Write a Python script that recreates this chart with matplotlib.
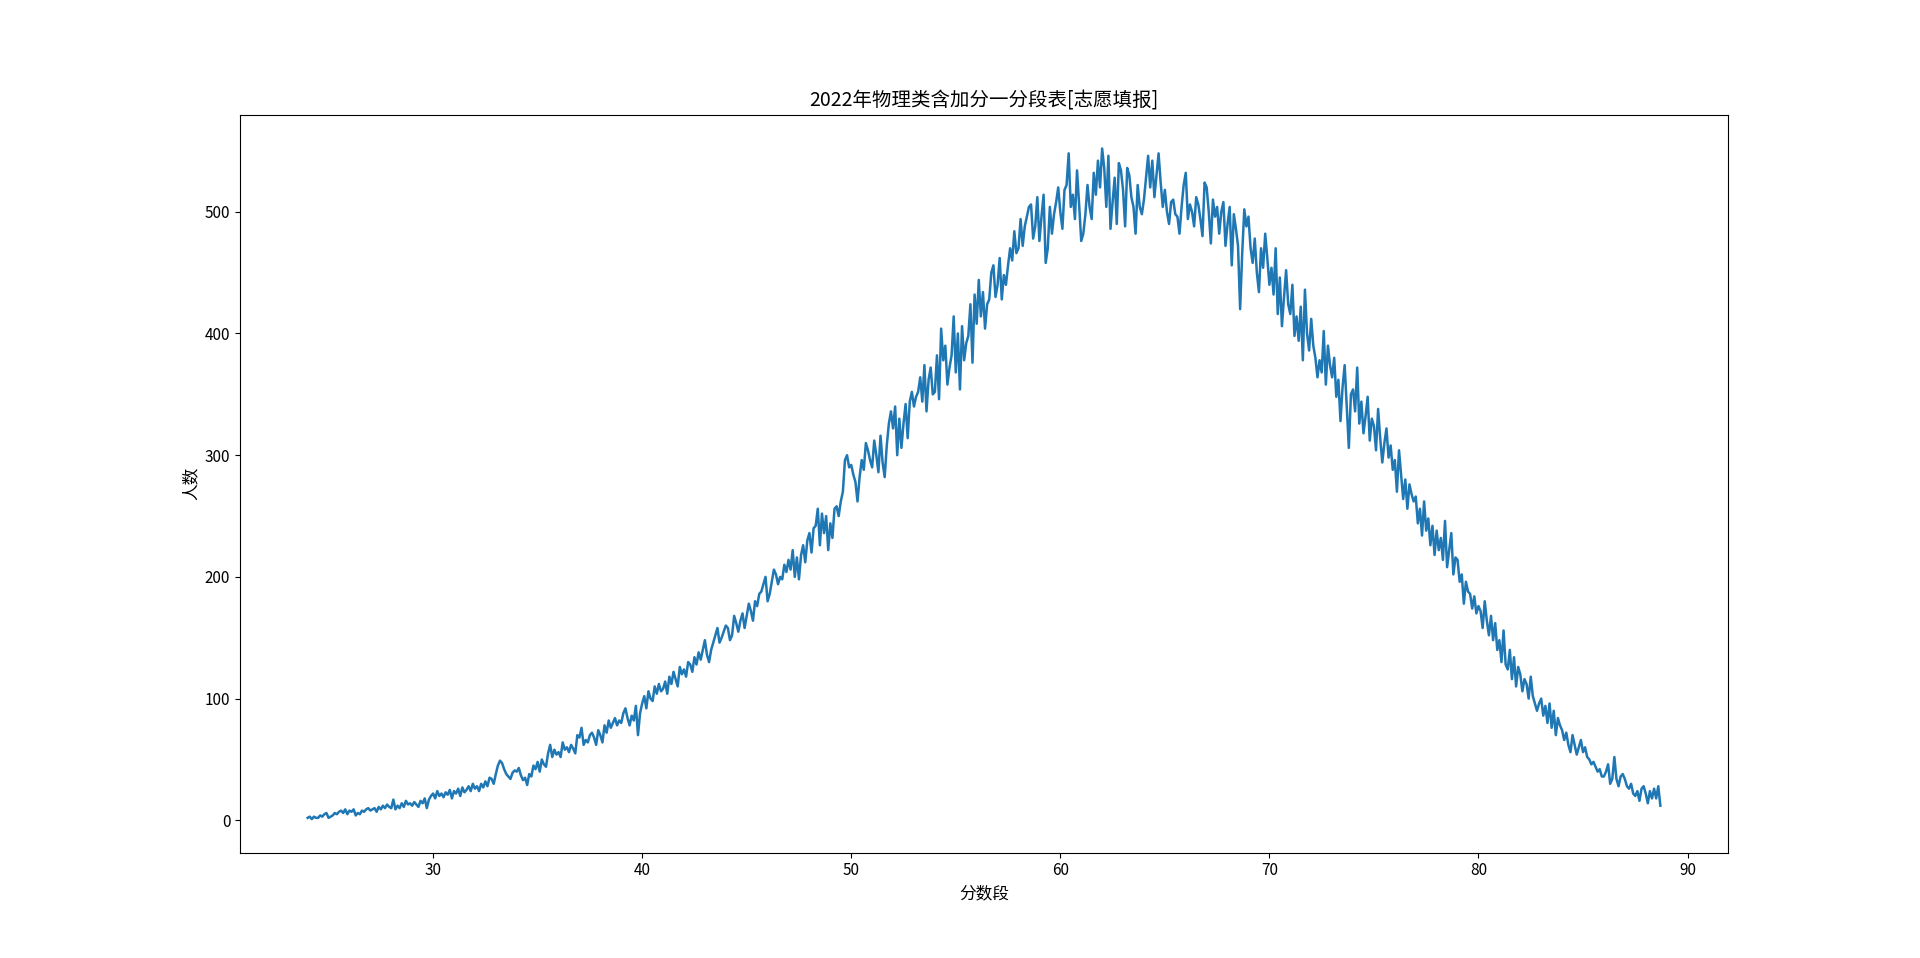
import numpy as np
import matplotlib
matplotlib.use("Agg")
import matplotlib.pyplot as plt

plt.rcParams['font.family'] = ['Noto Sans CJK SC', 'DejaVu Sans']
plt.rcParams['axes.unicode_minus'] = False

counts = [
2,3,1,3,2,2,4,3,5,6,
2,3,4,6,5,7,8,6,9,5,
8,7,9,4,6,5,8,7,9,10,
8,9,10,7,11,9,12,10,13,11,
10,17,9,12,10,14,11,16,13,14,
12,15,13,11,16,14,18,10,17,20,
22,18,24,20,22,19,23,21,25,18,
24,22,26,20,27,23,25,28,24,30,
26,28,24,30,27,32,28,35,34,30,
38,45,49,47,42,38,36,34,39,41,
40,43,37,33,35,29,38,36,45,42,
48,40,50,46,44,55,62,52,58,54,
56,52,64,58,60,56,62,59,55,70,
68,76,62,66,64,70,72,68,62,74,
70,64,78,72,82,76,80,84,78,82,
80,88,92,84,78,86,82,94,70,88,
96,102,92,106,100,98,110,104,112,106,
108,114,104,118,112,122,116,110,126,120,
124,118,130,128,122,134,128,138,132,140,
148,136,130,140,146,152,158,146,150,155,
160,158,148,152,168,162,155,164,170,158,
168,178,172,164,180,176,186,188,194,200,
180,186,196,206,202,194,200,198,210,204,
214,206,222,200,216,198,218,226,212,230,
236,220,240,242,256,226,252,236,250,222,
244,232,256,258,250,262,270,296,300,290,
292,284,278,262,282,296,288,310,304,296,
290,312,300,286,316,294,282,308,326,336,
322,340,300,330,306,326,342,314,344,352,
340,348,352,364,344,374,336,362,372,350,
352,382,346,404,378,390,358,372,382,414,
368,400,354,406,378,392,398,424,376,432,
408,444,414,434,404,424,428,450,456,430,
440,462,428,448,440,456,470,460,484,466,
470,494,472,488,496,504,506,478,488,512,
476,496,514,458,470,504,482,498,508,520,
500,486,518,522,548,504,514,494,534,506,
476,482,498,522,504,494,532,514,542,520,
552,536,504,546,486,508,528,490,540,534,
518,488,536,530,512,504,482,522,504,498,
510,528,546,520,542,512,530,548,524,504,
518,500,490,508,510,498,496,482,504,522,
532,494,506,500,488,512,506,494,480,524,
520,500,474,510,496,504,482,500,508,472,
490,504,456,498,486,472,420,466,502,488,
496,470,458,478,450,434,470,454,482,462,
440,454,432,470,416,446,406,430,452,424,
416,440,398,414,394,422,378,436,400,386,
412,390,380,364,378,368,402,358,390,374,
364,380,348,362,328,356,374,340,306,350,
354,336,372,326,344,318,332,348,312,330,
324,304,338,314,294,310,322,298,308,288,
296,270,304,284,264,280,256,276,268,262,
266,244,256,234,262,238,248,226,242,218,
238,222,232,214,246,208,222,236,202,216,
214,196,202,178,196,188,186,174,184,170,
176,172,158,180,164,152,168,148,162,140,
148,130,156,128,124,140,116,134,110,126,
120,106,116,112,100,118,102,96,90,96,
100,86,94,80,96,76,90,70,84,78,
74,66,72,62,56,70,62,54,60,66,
56,60,52,50,46,48,44,40,42,36,
36,40,46,30,34,52,34,28,36,38,
34,28,26,30,22,20,24,16,26,28,
22,14,24,18,26,18,28,12,
]
scores = [round(24.0 + 0.1 * i, 1) for i in range(len(counts))]

fig, ax = plt.subplots(figsize=(19.2, 9.58), dpi=100)
ax.plot(scores, counts, color='#1f77b4', linewidth=1.8)
ax.set_title('2022年物理类含加分一分段表[志愿填报]', fontsize=14)
ax.set_xlabel('分数段', fontsize=12)
ax.set_ylabel('人数', fontsize=12)
ax.tick_params(labelsize=11)
fig.savefig('out.png', dpi=100)
